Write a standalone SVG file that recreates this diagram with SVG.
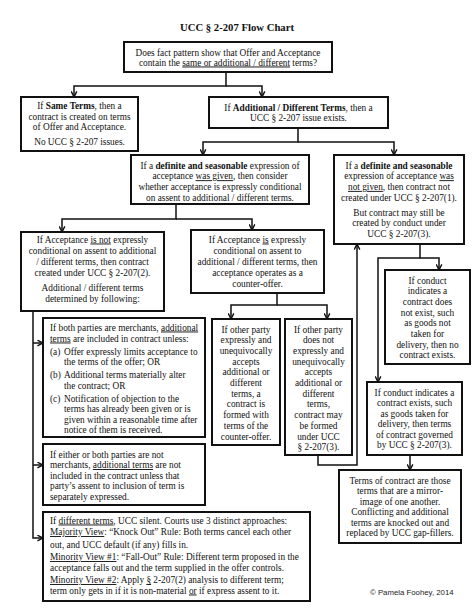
<svg xmlns="http://www.w3.org/2000/svg" width="474" height="613" viewBox="0 0 474 613">
<style>
.box{fill:#fff;stroke:#111;stroke-width:2}
.t{font-family:"Liberation Serif","Times New Roman",serif;font-size:9.3px;fill:#111}
.c{text-anchor:middle}
.b{font-weight:bold}
.u{text-decoration:underline}
.title{font-family:"Liberation Serif","Times New Roman",serif;font-size:10.7px;font-weight:bold;fill:#111;text-anchor:middle}
.cn{fill:none;stroke:#111;stroke-width:1.5}
.copy{font-family:"Liberation Sans",Arial,sans-serif;font-size:7.8px;fill:#222}
</style>
<defs>
<marker id="ah" viewBox="0 0 10 10" refX="9" refY="5" markerWidth="7" markerHeight="7" orient="auto" markerUnits="userSpaceOnUse">
<path d="M1,1 L9,5 L1,9" fill="none" stroke="#111" stroke-width="2"/>
</marker>
</defs>
<rect width="474" height="613" fill="#fff"/>
<text class="title" x="237" y="31">UCC § 2-207 Flow Chart</text>

<g id="connectors">
<path class="cn" d="M226,72 V86 H74 V97" marker-end="url(#ah)"/>
<path class="cn" d="M226,86 H262 V97" marker-end="url(#ah)"/>
<path class="cn" d="M298,128 V142 H203 V155" marker-end="url(#ah)"/>
<path class="cn" d="M298,142 H394 V155" marker-end="url(#ah)"/>
<path class="cn" d="M176,204 V219 H62 V232" marker-end="url(#ah)"/>
<path class="cn" d="M176,219 H252 V230" marker-end="url(#ah)"/>
<path class="cn" d="M277,293 V305 H231 V319" marker-end="url(#ah)"/>
<path class="cn" d="M277,305 H327 V319" marker-end="url(#ah)"/>
<path class="cn" d="M420,244 V258 H439 V270" marker-end="url(#ah)"/>
<path class="cn" d="M420,258 H378 V382" marker-end="url(#ah)"/>
<path class="cn" d="M318,455 V465 H357 V244" marker-end="url(#ah)"/>
<path class="cn" d="M410,455 V470" marker-end="url(#ah)"/>
<path class="cn" d="M33,311 V538 H43" marker-end="url(#ah)"/>
<path class="cn" d="M33,343 H43" marker-end="url(#ah)"/>
<path class="cn" d="M33,465 H43" marker-end="url(#ah)"/>
</g>

<g id="question">
<rect class="box" x="124" y="42" width="208" height="30"/>
<text class="t c" x="228" y="55.5">Does fact pattern show that Offer and Acceptance</text>
<text class="t c" x="228" y="65.5">contain the <tspan class="u">same or additional / different</tspan> terms?</text>
</g>

<g id="same">
<rect class="box" x="21" y="97" width="117" height="54"/>
<text class="t c" x="79.5" y="109">If <tspan class="b">Same Terms</tspan>, then a</text>
<text class="t c" x="79.5" y="119.7">contract is created on terms</text>
<text class="t c" x="79.5" y="130.4">of Offer and Acceptance.</text>
<text class="t c" x="79.5" y="144.5">No UCC § 2-207 issues.</text>
</g>

<g id="additional">
<rect class="box" x="209" y="97" width="179" height="31"/>
<text class="t c" x="298.5" y="110.5">If <tspan class="b">Additional / Different Terms</tspan>, then a</text>
<text class="t c" x="298.5" y="121">UCC § 2-207 issue exists.</text>
</g>

<g id="given">
<rect class="box" x="131" y="155" width="178" height="49"/>
<text class="t c" x="220" y="168.5">If a <tspan class="b">definite and seasonable</tspan> expression of</text>
<text class="t c" x="220" y="179.2">acceptance <tspan class="u">was given</tspan>, then consider</text>
<text class="t c" x="220" y="189.9">whether acceptance is expressly conditional</text>
<text class="t c" x="220" y="200.6">on assent to additional / different terms.</text>
</g>

<g id="notgiven">
<rect class="box" x="334" y="155" width="130" height="89"/>
<text class="t c" x="399" y="168.5">If a <tspan class="b">definite and seasonable</tspan></text>
<text class="t c" x="399" y="179.2">expression of acceptance <tspan class="u">was</tspan></text>
<text class="t c" x="399" y="189.9"><tspan class="u">not given</tspan>, then contract not</text>
<text class="t c" x="399" y="200.6">created under UCC § 2-207(1).</text>
<text class="t c" x="399" y="215.5">But contract may still be</text>
<text class="t c" x="399" y="226.2">created by conduct under</text>
<text class="t c" x="399" y="236.9">UCC § 2-207(3).</text>
</g>

<g id="isnot">
<rect class="box" x="21" y="232" width="143" height="79"/>
<text class="t c" x="92.5" y="242.5">If Acceptance <tspan class="u">is not</tspan> expressly</text>
<text class="t c" x="92.5" y="253.5">conditional on assent to additional</text>
<text class="t c" x="92.5" y="264.5">/ different terms, then contract</text>
<text class="t c" x="92.5" y="275.5">created under UCC § 2-207(2).</text>
<text class="t c" x="92.5" y="291">Additional / different terms</text>
<text class="t c" x="92.5" y="302">determined by following:</text>
</g>

<g id="is">
<rect class="box" x="191" y="230" width="133" height="63"/>
<text class="t c" x="257.5" y="242.5">If Acceptance <tspan class="u">is</tspan> expressly</text>
<text class="t c" x="257.5" y="253.5">conditional on assent to</text>
<text class="t c" x="257.5" y="264.5">additional / different terms, then</text>
<text class="t c" x="257.5" y="275.5">acceptance operates as a</text>
<text class="t c" x="257.5" y="286.5">counter-offer.</text>
</g>

<g id="noexist">
<rect class="box" x="385" y="270" width="85" height="94"/>
<text class="t c" x="427.5" y="283.5">If conduct</text>
<text class="t c" x="427.5" y="294.2">indicates a</text>
<text class="t c" x="427.5" y="304.9">contract does</text>
<text class="t c" x="427.5" y="315.6">not exist, such</text>
<text class="t c" x="427.5" y="326.3">as goods not</text>
<text class="t c" x="427.5" y="337">taken for</text>
<text class="t c" x="427.5" y="347.7">delivery, then no</text>
<text class="t c" x="427.5" y="358.4">contract exists.</text>
</g>

<g id="exists">
<rect class="box" x="367" y="382" width="95" height="73"/>
<text class="t c" x="414.5" y="395.5">If conduct indicates a</text>
<text class="t c" x="414.5" y="406">contract exists, such</text>
<text class="t c" x="414.5" y="416.5">as goods taken for</text>
<text class="t c" x="414.5" y="427">delivery, then terms</text>
<text class="t c" x="414.5" y="437.5">of contract governed</text>
<text class="t c" x="414.5" y="448">by UCC § 2-207(3).</text>
</g>

<g id="mirror">
<rect class="box" x="339" y="470" width="122" height="73"/>
<text class="t c" x="400" y="483.5">Terms of contract are those</text>
<text class="t c" x="400" y="494">terms that are a mirror-</text>
<text class="t c" x="400" y="504.5">image of one another.</text>
<text class="t c" x="400" y="515">Conflicting and additional</text>
<text class="t c" x="400" y="525.5">terms are knocked out and</text>
<text class="t c" x="400" y="536">replaced by UCC gap-fillers.</text>
</g>

<g id="accepts">
<rect class="box" x="212" y="319" width="68" height="126"/>
<text class="t c" x="246" y="332.5">If other party</text>
<text class="t c" x="246" y="343.2">expressly and</text>
<text class="t c" x="246" y="353.9">unequivocally</text>
<text class="t c" x="246" y="364.6">accepts</text>
<text class="t c" x="246" y="375.3">additional or</text>
<text class="t c" x="246" y="386">different</text>
<text class="t c" x="246" y="396.7">terms, a</text>
<text class="t c" x="246" y="407.4">contract is</text>
<text class="t c" x="246" y="418.1">formed with</text>
<text class="t c" x="246" y="428.8">terms of the</text>
<text class="t c" x="246" y="439.5">counter-offer.</text>
</g>

<g id="notaccepts">
<rect class="box" x="285" y="319" width="67" height="136"/>
<text class="t c" x="318.5" y="332.5">If other party</text>
<text class="t c" x="318.5" y="343.2">does not</text>
<text class="t c" x="318.5" y="353.9">expressly and</text>
<text class="t c" x="318.5" y="364.6">unequivocally</text>
<text class="t c" x="318.5" y="375.3">accepts</text>
<text class="t c" x="318.5" y="386">additional or</text>
<text class="t c" x="318.5" y="396.7">different</text>
<text class="t c" x="318.5" y="407.4">terms,</text>
<text class="t c" x="318.5" y="418.1">contract may</text>
<text class="t c" x="318.5" y="428.8">be formed</text>
<text class="t c" x="318.5" y="439.5">under UCC</text>
<text class="t c" x="318.5" y="450.2">§ 2-207(3).</text>
</g>

<g id="merchants">
<rect class="box" x="43" y="318" width="162" height="119"/>
<text class="t" x="50" y="330.5">If both parties are merchants, <tspan class="u">additional</tspan></text>
<text class="t" x="50" y="341.5"><tspan class="u">terms</tspan> are included in contract unless:</text>
<text class="t" x="50" y="354.5">(a)</text>
<text class="t" x="64" y="354.5">Offer expressly limits acceptance to</text>
<text class="t" x="64" y="365">the terms of the offer; OR</text>
<text class="t" x="50" y="378">(b)</text>
<text class="t" x="64" y="378">Additional terms materially alter</text>
<text class="t" x="64" y="388.5">the contract; OR</text>
<text class="t" x="50" y="401.5">(c)</text>
<text class="t" x="64" y="401.5">Notification of objection to the</text>
<text class="t" x="64" y="412">terms has already been given or is</text>
<text class="t" x="64" y="422.5">given within a reasonable time after</text>
<text class="t" x="64" y="433">notice of them is received.</text>
</g>

<g id="notmerchants">
<rect class="box" x="43" y="444" width="162" height="61"/>
<text class="t" x="50" y="457.5">If either or both parties are not</text>
<text class="t" x="50" y="468">merchants, <tspan class="u">additional terms</tspan> are not</text>
<text class="t" x="50" y="478.5">included in the contract unless that</text>
<text class="t" x="50" y="489">party’s assent to inclusion of term is</text>
<text class="t" x="50" y="499.5">separately expressed.</text>
</g>

<g id="different">
<rect class="box" x="43" y="512" width="267" height="89"/>
<text class="t" x="50" y="523.5">If <tspan class="u">different terms</tspan>, UCC silent. Courts use 3 distinct approaches:</text>
<text class="t" x="50" y="535"><tspan class="u">Majority View</tspan>: “Knock Out” Rule: Both terms cancel each other</text>
<text class="t" x="50" y="547.5">out, and UCC default (if any) fills in.</text>
<text class="t" x="50" y="560"><tspan class="u">Minority View #1</tspan>: “Fall-Out” Rule: Different term proposed in the</text>
<text class="t" x="50" y="571">acceptance falls out and the term supplied in the offer controls.</text>
<text class="t" x="50" y="583"><tspan class="u">Minority View #2</tspan>: Apply <tspan class="u">§</tspan> 2-207(2) analysis to different term;</text>
<text class="t" x="50" y="593.5">term only gets in if it is non-material <tspan class="u">or</tspan> if express assent to it.</text>
</g>

<text class="copy" x="370" y="595">© Pamela Foohey, 2014</text>
</svg>
